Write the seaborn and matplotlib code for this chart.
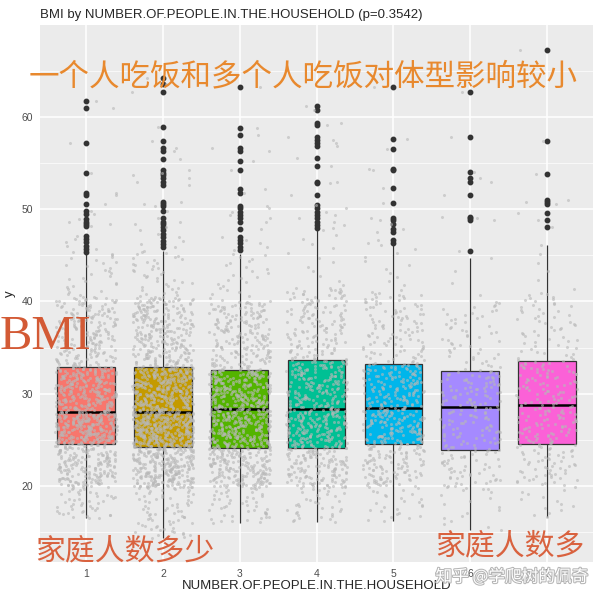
import numpy as np
import pandas as pd
import matplotlib
matplotlib.use("Agg")
import matplotlib.pyplot as plt
import matplotlib.patheffects as pe
from matplotlib.ticker import MultipleLocator
import seaborn as sns

# 家庭人数分组
grupos = ["1", "2", "3", "4", "5", "6", "7"]

# 箱线图数值（下须, 5%, Q1, 中位数, Q3, 95%, 上须）
bigote_inf = [16.5, 14.4, 16.0, 16.1, 16.2, 15.2, 16.6]
p05 = [20.0, 19.8, 19.9, 19.8, 20.0, 19.5, 20.2]
q1 = [24.6, 24.25, 24.1, 24.15, 24.5, 23.85, 24.55]
mediana = [28.0, 28.0, 28.3, 28.35, 28.4, 28.6, 28.75]
q3 = [32.9, 32.85, 32.6, 33.65, 33.2, 32.4, 33.5]
p95 = [40.5, 40.5, 40.0, 41.5, 41.0, 40.0, 41.0]
bigote_sup = [45.2, 45.5, 45.2, 47.75, 46.1, 44.7, 46.1]

# 每组大约的样本数（散点密度估计）
n_puntos = [900, 1300, 900, 650, 500, 260, 280]

# 离群点
atipicos = [
    [61.75, 60.95, 57.2, 53.9, 51.8, 51.55, 50.6, 49.8, 49.45, 48.9, 48.65,
     48.4, 48.2, 47.1, 46.8, 46.4, 46.05, 45.7, 45.4],
    [64.2, 63.6, 62.7, 58.95, 57.4, 56.6, 56.35, 55.4, 54.25, 53.95, 53.7,
     53.35, 53.0, 52.6, 50.8, 50.55, 50.3, 49.8, 49.1, 48.65, 48.4, 48.05,
     47.7, 47.3, 46.95, 46.6, 46.2, 45.95],
    [63.3, 58.8, 58.05, 56.6, 56.35, 55.2, 54.25, 52.15, 51.8, 50.35, 50.1,
     49.7, 49.4, 49.0, 48.65, 47.9, 47.0, 46.65, 46.3, 45.95, 45.6],
    [61.2, 60.8, 59.3, 59.15, 57.85, 57.5, 57.15, 56.8, 55.5, 54.7, 53.0,
     52.8, 51.55, 50.45, 50.1, 49.7, 49.4, 49.0, 48.65, 48.3, 48.0],
    [63.3, 57.6, 56.5, 54.4, 54.2, 52.35, 50.7, 49.1, 48.8, 48.4, 47.9,
     47.55, 46.65, 46.3],
    [62.7, 57.8, 54.0, 53.35, 52.9, 51.55, 49.2, 49.0, 48.8, 45.5],
    [67.3, 57.4, 53.8, 51.0, 50.8, 50.6, 49.55, 48.8, 48.1],
]

colores = ["#F8766D", "#C49A00", "#53B400", "#00C094", "#00B6EB", "#A58AFF", "#FB61D7"]

# 根据读出的分位数还原每组的数据（分位数按含离群点的全部数据计算）
filas = []
for i, g in enumerate(grupos):
    n = n_puntos[i]
    f = n / (n + len(atipicos[i]))
    nudos_p = [0, 0.05, 0.25, 0.5, 0.75, 0.95, f]
    nudos_y = [bigote_inf[i], p05[i], q1[i], mediana[i], q3[i], p95[i], bigote_sup[i]]
    valores = np.interp(np.linspace(0, f, n), nudos_p, nudos_y)
    for v in list(valores) + atipicos[i]:
        filas.append((g, v))
df = pd.DataFrame(filas, columns=["grupo", "y"])

sns.set_style("darkgrid", {"axes.facecolor": "#EBEBEB", "grid.color": "white"})
plt.rcParams["font.family"] = ["Liberation Sans", "DejaVu Sans"]

fig = plt.figure(figsize=(6, 6), dpi=100)
ax = fig.add_axes([40 / 600, 1 - 562 / 600, 553 / 600, 537 / 600])

sns.boxplot(data=df, x="grupo", y="y", hue="grupo", order=grupos, palette=colores,
            legend=False, width=0.75, ax=ax, showcaps=False, saturation=1,
            linecolor="#333333", linewidth=0.9,
            medianprops=dict(color="black", linewidth=1.8),
            flierprops=dict(marker="o", markersize=3.2, markerfacecolor="#333333",
                            markeredgecolor="#333333"))
np.random.seed(3)
sns.stripplot(data=df, x="grupo", y="y", order=grupos, color="#b8b8b8", alpha=0.6,
              size=2.2, jitter=0.4, linewidth=0, ax=ax, zorder=5)

ax.set_xlim(-0.6, 6.6)
ax.set_ylim(11.76, 69.97)
ax.yaxis.set_major_locator(MultipleLocator(10))
ax.yaxis.set_minor_locator(MultipleLocator(5))
ax.grid(which="major", color="white", linewidth=1.1)
ax.grid(which="minor", axis="y", color="white", linewidth=0.5)
ax.set_axisbelow(True)
for s in ax.spines.values():
    s.set_visible(False)
ax.tick_params(which="major", length=3, color="#333333", labelsize=7.5,
               labelcolor="#4D4D4D", pad=2)
ax.tick_params(which="minor", length=0)
ax.set_xlabel("NUMBER.OF.PEOPLE.IN.THE.HOUSEHOLD", fontsize=9.5, labelpad=1)
ax.set_ylabel("y", fontsize=9.5, labelpad=4)

fig.text(40 / 600, 1 - 15 / 600, "BMI by NUMBER.OF.PEOPLE.IN.THE.HOUSEHOLD (p=0.3542)",
         fontsize=9.5, va="center", ha="left")

# 图上的注释文字
cjk = ["Noto Sans CJK SC", "DejaVu Sans"]
fig.text(0.505, 1 - 77 / 600, "一个人吃饭和多个人吃饭对体型影响较小", family=cjk,
         fontsize=22, color="#E8892E", ha="center", va="center", fontweight="light")
fig.text(0.0, 1 - 337 / 600, "BMI", family=["Liberation Serif"], fontsize=35,
         color="#D35A35", ha="left", va="center")
fig.text(35 / 600, 1 - 551 / 600, "家庭人数多少", family=cjk, fontsize=21.5,
         color="#D9623F", ha="left", va="center", fontweight="light")
fig.text(585 / 600, 1 - 546 / 600, "家庭人数多", family=cjk, fontsize=21.5,
         color="#D9623F", ha="right", va="center", fontweight="light")
fig.text(588 / 600, 1 - 577 / 600, "知乎 @学爬树的佩奇", family=cjk, fontsize=12,
         color="white", ha="right", va="center",
         path_effects=[pe.withStroke(linewidth=1.5, foreground="#b5b5b5")])

fig.savefig("out.png", dpi=100)
